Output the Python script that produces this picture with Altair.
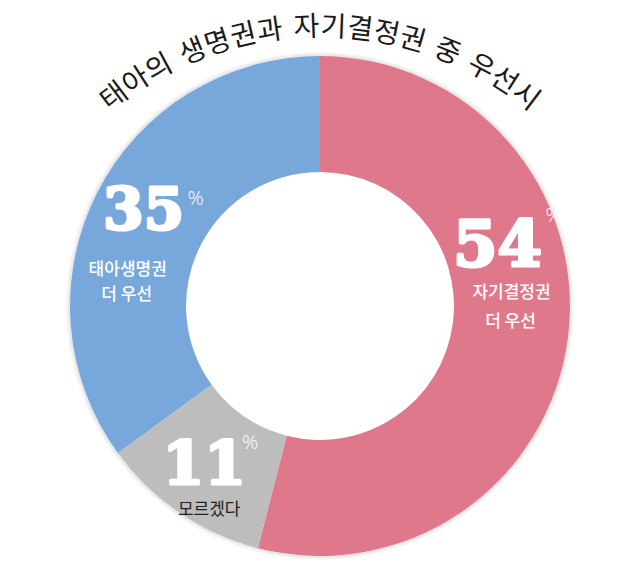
import altair as alt
import pandas as pd

categories = ["자기결정권 더 우선", "모르겠다", "태아생명권 더 우선"]
values = [54, 11, 35]
line1 = ["자기결정권", "모르겠다", "태아생명권"]
line2 = ["더 우선", "", "더 우선"]
colors = ["#E0788C", "#BDBDBD", "#78A7DB"]
title_text = "태아의 생명권과 자기결정권 중 우선시"

total = sum(values)
theta_scale = alt.Scale(domain=[0, total])

df = pd.DataFrame({
    "cat": categories,
    "value": values,
    "order": list(range(len(values))),
    "line1": line1,
    "line2": line2,
})
df["pct"] = df["value"].astype(str)

base = alt.Chart(df).transform_window(
    cum="sum(value)", sort=[alt.SortField("order")], frame=[None, 0]
).transform_calculate(
    v0="datum.cum - datum.value",
    v1="datum.cum",
    mid="datum.cum - datum.value / 2",
)

arcs = base.mark_arc(innerRadius=134, outerRadius=250).encode(
    theta=alt.Theta("v0:Q", scale=theta_scale),
    theta2="v1:Q",
    color=alt.Color("cat:N", scale=alt.Scale(domain=categories, range=colors), legend=None),
)

ring_df = pd.DataFrame({"a": [0], "b": [total]})


def ring(r_in, r_out, opacity):
    return alt.Chart(ring_df).mark_arc(
        innerRadius=r_in, outerRadius=r_out, color="#000000", opacity=opacity
    ).encode(theta=alt.Theta("a:Q", scale=theta_scale), theta2="b:Q")


shadows = [ring(250, 254, 0.04), ring(250, 252, 0.05), ring(134, 140, 0.04), ring(134, 137, 0.05), ring(134, 135.5, 0.06)]


def label(cat, text, dx, dy, size, font, weight, color, baseline="middle", opacity=1.0, heavy=False):
    enc_text = alt.value(text) if text == "%" else alt.Text(f"{text}:N")
    extra = {"stroke": color, "strokeWidth": 3.2, "strokeJoin": "round"} if heavy else {}
    return base.transform_filter(alt.datum.cat == cat).mark_text(
        radius=190, dx=dx, dy=dy, fontSize=size, font=font, fontWeight=weight,
        color=color, opacity=opacity, align="center", baseline=baseline, **extra,
    ).encode(
        theta=alt.Theta("mid:Q", scale=theta_scale, stack=False),
        text=enc_text,
    )


NUMF = "DejaVu Serif"
KF = "Noto Sans CJK KR"
layers = []
# pink
layers += [
    label(categories[0], "pct", -11, -64, 64, NUMF, "bold", "white", baseline="alphabetic", heavy=True),
    label(categories[0], "%", 45, -114, 20, "Noto Sans", 300, "white", opacity=0.9),
    label(categories[0], "line1", 3, -37, 17, KF, 500, "white"),
    label(categories[0], "line2", 2, -8, 17, KF, 500, "white"),
]
# gray
layers += [
    label(categories[1], "pct", -9, 21, 60, NUMF, "bold", "white", baseline="alphabetic", heavy=True),
    label(categories[1], "%", 37, -20, 20, "Noto Sans", 300, "white", opacity=0.9),
    label(categories[1], "line1", -4, 47, 17, KF, 400, "#222222"),
]
# blue
layers += [
    label(categories[2], "pct", -7, 9, 58, NUMF, "bold", "white", baseline="alphabetic", heavy=True),
    label(categories[2], "%", 45, -21, 20, "Noto Sans", 300, "white", opacity=0.9),
    label(categories[2], "line1", -23, 50, 17, KF, 500, "white"),
    label(categories[2], "line2", -24, 75, 17, KF, 500, "white"),
]

# curved title, one character per row, laid out along a flat arc
units = [0.38 if ch == " " else 1.0 for ch in title_text]
pos = []
c = 0.0
for u in units:
    pos.append(c + u / 2)
    c += u
centre = (pos[0] + pos[-1]) / 2
step_deg = 4.5
rows = []
for ch, p in zip(title_text, pos):
    if ch == " ":
        continue
    d = ((p - centre) * step_deg + 360) % 360
    rows.append({"ch": ch, "t": d / 360 * total, "rot": d})
tdf = pd.DataFrame(rows)

title = alt.Chart(tdf).mark_text(
    radius=340, fontSize=28, font=KF, color="#1a1a1a", align="center", baseline="middle"
).encode(
    x=alt.value(312),
    y=alt.value(320),
    theta=alt.Theta("t:Q", scale=theta_scale, stack=False),
    angle=alt.Angle("rot:Q", scale=None),
    text="ch:N",
)

chart = alt.layer(*shadows, arcs, *layers, title).properties(
    width=624,
    height=516,
    padding={"left": 0, "top": 40, "right": 0, "bottom": 0},
    autosize=alt.AutoSizeParams(type="none"),
).configure_view(stroke=None)

chart.save("out.html", embed_options={"renderer": "svg", "actions": False})
